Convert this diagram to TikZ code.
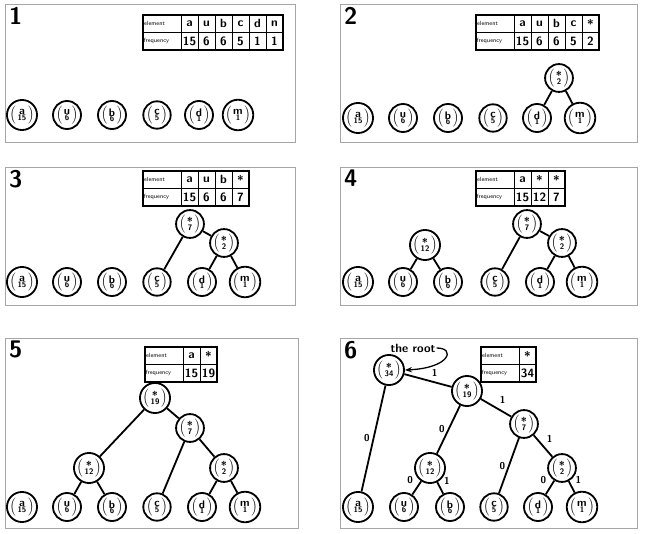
\documentclass[tikz,border=0pt]{standalone}
\usepackage{amsmath}
\usetikzlibrary{arrows.meta}
\newcommand\hn[2]{$\Bigl(\begin{smallmatrix}\text{\bfseries\fontsize{11}{11}\selectfont #1}\\[-2pt]\text{\bfseries\fontsize{8}{8}\selectfont #2}\end{smallmatrix}\Bigr)$}
\newcommand\ftable[3]{%
 \draw[line width=0.7pt] (#1,#2) rectangle ++(38,17.5);
 \draw[line width=0.7pt] (#1,#2+17.5) rectangle ++(38,17.5);
 \node[font=\sffamily\fontsize{6}{6}\selectfont,anchor=west,inner sep=1pt] at (#1,#2+8.75) {element};
 \node[font=\sffamily\fontsize{6}{6}\selectfont,anchor=west,inner sep=0.5pt] at (#1,#2+26.25) {frequency};
 \foreach \e/\f [count=\i from 0] in {#3}{
  \draw[line width=0.7pt] (#1+38+\i*17,#2) rectangle ++(17,17.5);
  \draw[line width=0.7pt] (#1+38+\i*17,#2+17.5) rectangle ++(17,17.5);
  \node[font=\sffamily\bfseries\fontsize{12}{12}\selectfont,inner sep=0pt] at (#1+46.5+\i*17,#2+8.75) {\e};
  \node[font=\sffamily\bfseries\fontsize{12}{12}\selectfont,inner sep=0pt] at (#1+46.5+\i*17,#2+26.25) {\f};
  \xdef\lastx{\i}
 }
 \draw[line width=2pt] (#1,#2) rectangle (#1+55+\lastx*17,#2+35);
}
\begin{document}
\begin{tikzpicture}[x=1pt,y=-1pt,
 hnode/.style={circle,draw,line width=1.8pt,minimum size=27,inner sep=0pt,font=\sffamily},
 panel/.style={draw=black!35,line width=0.6pt},
 edge/.style={line width=1.8pt},
 num/.style={font=\sffamily\bfseries\fontsize{24}{24}\selectfont,anchor=north west,inner sep=0pt},
 bit/.style={font=\sffamily\bfseries\fontsize{10}{10}\selectfont,inner sep=3pt}]
\useasboundingbox[fill=white] (0,0) rectangle (645,534);
% panels
\draw[panel] (5,4) rectangle (295,142);
\draw[panel] (340,4) rectangle (637,142);
\draw[panel] (5,167) rectangle (295,305);
\draw[panel] (340,167) rectangle (637,305);
\draw[panel] (5,338) rectangle (298,528);
\draw[panel] (340,338) rectangle (637,528);
\node[num] (n1) at (9,7) {1};
\node[num] (n2) at (344,7) {2};
\node[num] (n3) at (9,170) {3};
\node[num] (n4) at (344,170) {4};
\node[num] (n5) at (9,341) {5};
\node[num] (n6) at (344,341) {6};
% panel 1
\ftable{143}{15}{a/15,u/6,b/6,c/5,d/1,n/1}
\node[hnode] (a1) at (22,115) {\hn{a}{15}};
\node[hnode] (u1) at (67,115) {\hn{u}{6}};
\node[hnode] (b1) at (112,115) {\hn{b}{6}};
\node[hnode] (c1) at (157,115) {\hn{c}{5}};
\node[hnode] (d1) at (199,115) {\hn{d}{1}};
\node[hnode] (m1) at (238,115) {\hn{m}{1}};
% panel 2
\ftable{476}{15}{a/15,u/6,b/6,c/5,*/2}
\node[hnode] (a2) at (358,118) {\hn{a}{15}};
\node[hnode] (u2) at (403,118) {\hn{u}{6}};
\node[hnode] (b2) at (448,118) {\hn{b}{6}};
\node[hnode] (c2) at (493,118) {\hn{c}{5}};
\node[hnode] (d2) at (537,118) {\hn{d}{1}};
\node[hnode] (m2) at (580,118) {\hn{m}{1}};
\node[hnode] (s2) at (559,78) {\hn{*}{2}};
\draw[edge] (s2)--(d2) (s2)--(m2);
% panel 3
\ftable{143}{171}{a/15,u/6,b/6,*/7}
\node[hnode] (a3) at (22,282) {\hn{a}{15}};
\node[hnode] (u3) at (67,282) {\hn{u}{6}};
\node[hnode] (b3) at (112,282) {\hn{b}{6}};
\node[hnode] (c3) at (157,282) {\hn{c}{5}};
\node[hnode] (d3) at (202,282) {\hn{d}{1}};
\node[hnode] (m3) at (245,282) {\hn{m}{1}};
\node[hnode] (s3) at (224,243) {\hn{*}{2}};
\node[hnode] (t3) at (190,224) {\hn{*}{7}};
\draw[edge] (s3)--(d3) (s3)--(m3) (t3)--(s3) (t3)--(c3);
% panel 4
\ftable{476}{171}{a/15,*/12,*/7}
\node[hnode] (a4) at (358,282) {\hn{a}{15}};
\node[hnode] (u4) at (403,282) {\hn{u}{6}};
\node[hnode] (b4) at (448,282) {\hn{b}{6}};
\node[hnode] (c4) at (495,282) {\hn{c}{5}};
\node[hnode] (d4) at (540,282) {\hn{d}{1}};
\node[hnode] (m4) at (582,282) {\hn{m}{1}};
\node[hnode] (r4) at (425,245) {\hn{*}{12}};
\node[hnode] (s4) at (562,243) {\hn{*}{2}};
\node[hnode] (t4) at (527,224) {\hn{*}{7}};
\draw[edge] (r4)--(u4) (r4)--(b4) (s4)--(d4) (s4)--(m4) (t4)--(s4) (t4)--(c4);
% panel 5
\ftable{145}{347}{a/15,*/19}
\node[hnode] (a5) at (22,507) {\hn{a}{15}};
\node[hnode] (u5) at (67,507) {\hn{u}{6}};
\node[hnode] (b5) at (112,507) {\hn{b}{6}};
\node[hnode] (c5) at (157,507) {\hn{c}{5}};
\node[hnode] (d5) at (202,507) {\hn{d}{1}};
\node[hnode] (m5) at (245,507) {\hn{m}{1}};
\node[hnode] (r5) at (89,468) {\hn{*}{12}};
\node[hnode] (s5) at (224,468) {\hn{*}{2}};
\node[hnode] (t5) at (190,428) {\hn{*}{7}};
\node[hnode] (q5) at (155,398) {\hn{*}{19}};
\draw[edge] (r5)--(u5) (r5)--(b5) (s5)--(d5) (s5)--(m5) (t5)--(s5) (t5)--(c5) (q5)--(r5) (q5)--(t5);
% panel 6
\ftable{481}{347}{*/34}
\node[hnode] (a6) at (358,507) {\hn{a}{15}};
\node[hnode] (u6) at (404,507) {\hn{u}{6}};
\node[hnode] (b6) at (450,507) {\hn{b}{6}};
\node[hnode] (c6) at (494,507) {\hn{c}{5}};
\node[hnode] (d6) at (538,507) {\hn{d}{1}};
\node[hnode] (m6) at (582,507) {\hn{m}{1}};
\node[hnode] (r6) at (430,468) {\hn{*}{12}};
\node[hnode] (s6) at (562,468) {\hn{*}{2}};
\node[hnode] (t6) at (524,424) {\hn{*}{7}};
\node[hnode] (q6) at (467,391) {\hn{*}{19}};
\node[hnode] (z6) at (389,370) {\hn{*}{34}};
\draw[edge] (r6)--node[bit,above left]{0}(u6) (r6)--node[bit,above right]{1}(b6)
 (s6)--node[bit,above left]{0}(d6) (s6)--node[bit,above right]{1}(m6)
 (t6)--node[bit,above right]{1}(s6) (t6)--node[bit,left]{0}(c6)
 (q6)--node[bit,left]{0}(r6) (q6)--node[bit,above right]{1}(t6)
 (z6)--node[bit,above right]{1}(q6) (z6)--node[bit,left]{0}(a6);
\node[font=\sffamily\bfseries\fontsize{12}{12}\selectfont,inner sep=1pt] (root) at (413,348) {the root};
\draw[line width=1.3pt,-{Stealth[length=7pt]}] (root.east) .. controls (456,348) and (450,368) .. (z6.east);
\end{tikzpicture}
\end{document}
